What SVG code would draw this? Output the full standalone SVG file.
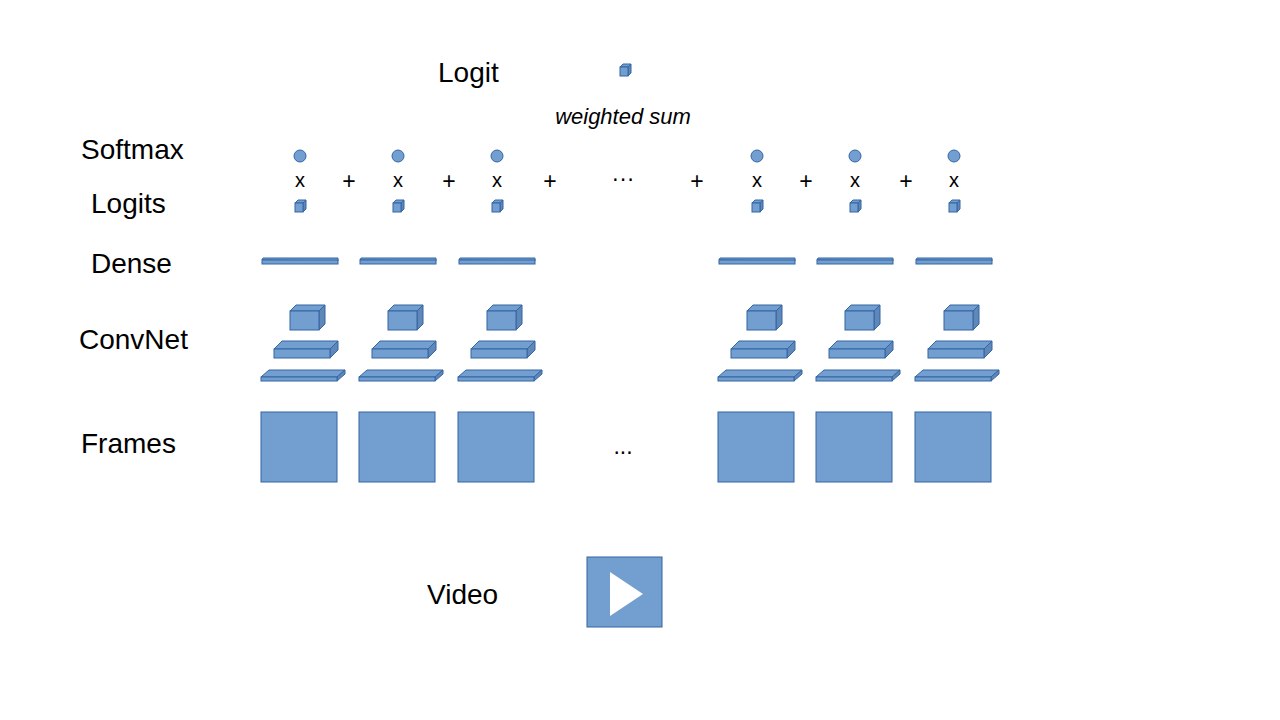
<svg xmlns="http://www.w3.org/2000/svg" xmlns:xlink="http://www.w3.org/1999/xlink" width="1280" height="720" viewBox="0 0 1280 720">
<style>
.s{fill:#729fcf;stroke:#3465a4;stroke-width:1}
.d{fill:#5f88b8;stroke:#3465a4;stroke-width:1}
.l{font-family:"Liberation Sans",Arial,sans-serif;font-size:28px;fill:#000}
.m{font-family:"Liberation Sans",Arial,sans-serif;font-size:20px;fill:#000;text-anchor:middle}
.p{font-family:"Liberation Sans",Arial,sans-serif;font-size:23px;fill:#000;text-anchor:middle}
</style>
<defs>
<g id="cube">
<polygon class="s" points="-5,-3 -2,-6 6,-6 3,-3"/>
<polygon class="d" points="3,-3 6,-6 6,3 3,6"/>
<rect class="s" x="-5" y="-3" width="8" height="9"/>
</g>
<g id="col">
<circle class="s" cx="0" cy="156" r="6"/>
<text class="m" x="0" y="187">x</text>
<use xlink:href="#cube" transform="translate(0,206)"/>
<polygon class="s" points="-38,260 -37,258 38,258 38,261"/>
<rect class="s" x="-38" y="260" width="76" height="4"/>
<polygon class="s" points="-10,311 -4,305 25,305 19,311"/>
<polygon class="d" points="19,311 25,305 25,324 19,330"/>
<rect class="s" x="-10" y="311" width="29" height="19"/>
<polygon class="s" points="-26,349 -18,341 38,341 30,349"/>
<polygon class="d" points="30,349 38,341 38,350 30,358"/>
<rect class="s" x="-26" y="349" width="56" height="9"/>
<polygon class="s" points="-39,377 -31,370 45,370 37,377"/>
<polygon class="d" points="37,377 45,370 45,374 37,381"/>
<rect class="s" x="-39" y="377" width="76" height="4"/>
<rect class="s" x="-39" y="412" width="76" height="70"/>
</g>
</defs>
<rect width="1280" height="720" fill="#fff"/>
<g id="labels">
<text class="l" x="438" y="82">Logit</text>
<text class="l" x="81" y="159">Softmax</text>
<text class="l" x="91" y="213">Logits</text>
<text class="l" x="91" y="273">Dense</text>
<text class="l" x="79" y="349">ConvNet</text>
<text class="l" x="81" y="453">Frames</text>
<text class="l" x="427" y="604">Video</text>
<text x="623" y="124" font-family="Liberation Sans,Arial,sans-serif" font-size="22" font-style="italic" text-anchor="middle">weighted sum</text>
</g>
<g id="logit"><use xlink:href="#cube" transform="translate(625,70)"/></g>
<g id="col1"><use xlink:href="#col" transform="translate(300,0)"/></g>
<g id="col2"><use xlink:href="#col" transform="translate(398,0)"/></g>
<g id="col3"><use xlink:href="#col" transform="translate(497,0)"/></g>
<g id="col4"><use xlink:href="#col" transform="translate(757,0)"/></g>
<g id="col5"><use xlink:href="#col" transform="translate(855,0)"/></g>
<g id="col6"><use xlink:href="#col" transform="translate(954,0)"/></g>
<g id="ops">
<text class="p" x="349" y="189">+</text>
<text class="p" x="449" y="189">+</text>
<text class="p" x="550" y="189">+</text>
<text class="p" x="623" y="186">···</text>
<text class="p" x="697" y="189">+</text>
<text class="p" x="806" y="189">+</text>
<text class="p" x="906" y="189">+</text>
<text class="p" x="623" y="454">...</text>
</g>
<g id="video">
<rect class="s" x="587" y="557" width="75" height="70"/>
<polygon points="610,572 610,616 643,594" fill="#fff"/>
</g>
<g id="connectors"/>
</svg>
